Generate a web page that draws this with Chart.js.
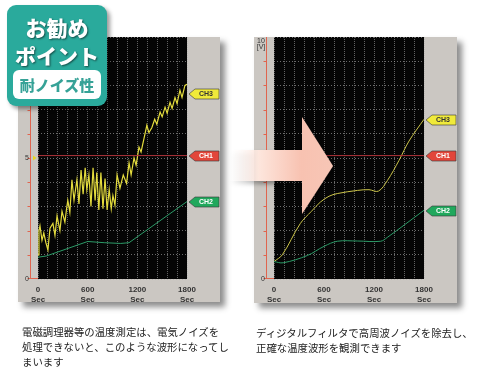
<!DOCTYPE html>
<html>
<head>
<meta charset="utf-8">
<script src="https://cdn.jsdelivr.net/npm/chart.js@4"></script>
<style>
  body { margin: 0; background: #fff; }
  #page { position: relative; width: 480px; height: 374px; overflow: hidden; background: #fff; }
  .frame { position: absolute; background: #cbc7c2; box-shadow: 5px 5px 6px rgba(0,0,0,0.45); }
  .frame canvas { position: absolute; left: 0; top: 0; }
  .caption { position: absolute; font-family: "Noto Sans CJK JP", sans-serif; font-size: 10.4px; line-height: 15px; color: #222; white-space: nowrap; }
  #badge { position: absolute; left: 7px; top: 5px; width: 100px; height: 101px; background: #2aaa9c; border-radius: 9px; box-shadow: 3px 3px 4px rgba(0,0,0,0.4); font-family: "Noto Sans CJK JP", sans-serif; font-weight: 900; color: #fff; text-align: center; }
  #badge .l1 { position: absolute; left: 0; right: 0; top: 10px; font-size: 21px; line-height: 24px; text-shadow: 1px 1px 2px rgba(0,0,0,0.55); }
  #badge .l2 { position: absolute; left: 0; right: 0; top: 38px; font-size: 21px; line-height: 24px; text-shadow: 1px 1px 2px rgba(0,0,0,0.55); }
  #badge .box { position: absolute; left: 6px; top: 65px; width: 88px; height: 29px; background: #fff; border-radius: 6px; color: #36a297; font-size: 15px; line-height: 29px; }
  #arrow { position: absolute; left: 0; top: 0; }
</style>
</head>
<body>
<div id="page">
  <div class="frame" style="left:18px; top:37px; width:202px; height:265px;"><canvas id="noisy" width="202" height="265"></canvas></div>
  <div class="frame" style="left:254px; top:37px; width:203px; height:266px;"><canvas id="filtered" width="203" height="266"></canvas></div>

  <svg id="arrow" width="480" height="374">
    <defs>
      <linearGradient id="ag" gradientUnits="userSpaceOnUse" x1="227" y1="0" x2="333" y2="0">
        <stop offset="0" stop-color="#ffffff" stop-opacity="0"/>
        <stop offset="0.3" stop-color="#fde6dd"/>
        <stop offset="0.7" stop-color="#f8c2b1"/>
        <stop offset="1" stop-color="#f7c6b6"/>
      </linearGradient>
      <filter id="sh" x="-10%" y="-10%" width="130%" height="130%">
        <feDropShadow dx="3" dy="3" stdDeviation="2" flood-color="#000" flood-opacity="0.35"/>
      </filter>
    </defs>
    <polygon points="227,150 302,150 302,117 333,166 302,214 302,181 227,181" fill="url(#ag)" filter="url(#sh)"/>
  </svg>

  <div id="badge">
    <div class="l1">お勧め</div>
    <div class="l2">ポイント</div>
    <div class="box">耐ノイズ性</div>
  </div>

  <div class="caption" style="left:22px; top:324px;">電磁調理器等の温度測定は、電気ノイズを<br>処理できないと、このような波形になってし<br>まいます</div>
  <div class="caption" style="left:256px; top:325px;">ディジタルフィルタで高周波ノイズを除去し、<br>正確な温度波形を観測できます</div>
</div>

<script>
// 温度ロガー画面: 左 = フィルタなし, 右 = ディジタルフィルタあり
var xTickLabels = ['0', '600', '1200', '1800'];
var xUnit = 'Sec';

// 左 (ノイズあり) CH3
var noisyT = [0, 12, 24, 48, 70, 95, 120, 145, 180, 205, 230, 265, 290, 325, 345, 360, 385, 410, 435, 470,
              495, 520, 545, 570, 590, 615, 640, 665, 690, 710, 735, 760, 785, 810, 835, 860, 885, 905, 930, 955,
              990, 1030, 1070, 1100, 1125, 1160, 1185, 1220, 1245, 1280, 1315, 1340, 1375, 1410, 1435, 1475, 1500, 1535, 1560, 1595,
              1620, 1655, 1680, 1715, 1740, 1775, 1800];
var noisyCh3 = [1.0, 2.0, 2.2, 1.6, 1.9, 1.5, 1.2, 2.1, 2.3, 1.8, 2.6, 2.0, 2.8, 2.35, 2.9, 3.25, 2.75, 4.1, 3.25, 4.1,
                3.1, 4.5, 3.5, 4.6, 3.7, 4.3, 3.0, 4.6, 3.25, 4.4, 2.85, 4.4, 2.9, 4.15, 2.85, 3.7, 2.9, 3.45, 3.05, 4.3,
                3.75, 4.3, 3.95, 4.8, 4.3, 5.0, 4.7, 5.45, 5.25, 5.8, 6.35, 6.05, 6.25, 6.6, 6.4, 6.9, 6.7, 7.1, 6.85, 7.3,
                7.05, 7.5, 7.25, 7.8, 7.5, 8.0, 8.05];
var noisyCh2T = [0, 100, 600, 800, 1000, 1100, 1800];
var noisyCh2 = [0.9, 0.95, 1.55, 1.5, 1.47, 1.5, 3.2];
var noisyCh1T = [0, 1800];
var noisyCh1 = [5.1, 5.1];

// 右 (フィルタあり)
var filtCh3T = [0, 100, 315, 450, 557, 660, 759, 1000, 1140, 1253, 1361, 1500, 1620, 1800];
var filtCh3 = [0.72, 1.0, 2.29, 2.8, 3.18, 3.42, 3.53, 3.66, 3.69, 3.63, 4.07, 4.9, 5.7, 6.6];
var filtCh2T = [0, 110, 400, 600, 760, 1000, 1280, 1360, 1800];
var filtCh2 = [0.72, 0.67, 0.97, 1.35, 1.56, 1.57, 1.56, 1.72, 2.84];
var filtCh1T = [0, 1800];
var filtCh1 = [5.1, 5.1];

// 右端のチャンネル表示の位置 [CH3, CH1, CH2]
var channelNames = ['CH3', 'CH1', 'CH2'];
var noisyFlags = [7.65, 5.1, 3.2];
var filtFlags = [6.57, 5.1, 2.8];

var flagColors = ['#f0ea3a', '#e2463a', '#20a85c'];
var flagText = ['#333', '#fff', '#fff'];

function pts(t, v) {
    return t.map(function (x, i) { return { x: x, y: v[i] }; });
}

var scopePlugin = {
    id: 'scope',
    beforeDraw: function (chart) {
        var ctx = chart.ctx, a = chart.chartArea, y = chart.scales.y;
        ctx.save();
        ctx.fillStyle = '#050505';
        ctx.fillRect(a.left, a.top, a.right - a.left, a.bottom - a.top);
        // 赤い縦軸
        var ax = a.left - 7.5;
        ctx.strokeStyle = '#e0654f';
        ctx.lineWidth = 1;
        ctx.beginPath();
        ctx.moveTo(ax, a.top);
        ctx.lineTo(ax, a.bottom);
        for (var v = 1; v < 10; v++) {
            var py = Math.round(y.getPixelForValue(v)) + 0.5;
            ctx.moveTo(ax - 3, py);
            ctx.lineTo(ax, py);
        }
        ctx.moveTo(ax - 3, a.bottom - 0.5);
        ctx.lineTo(a.left, a.bottom - 0.5);
        ctx.stroke();
        ctx.restore();
    },
    afterDraw: function (chart) {
        var ctx = chart.ctx, a = chart.chartArea, y = chart.scales.y;
        var o = chart.options.plugins.scope;
        ctx.save();
        // 10 [V]
        ctx.fillStyle = '#333';
        ctx.font = '7px "Liberation Sans"';
        ctx.textAlign = 'center';
        ctx.fillText('10', a.left - 13, y.getPixelForValue(10) + 6);
        ctx.fillText('[V]', a.left - 13, y.getPixelForValue(10) + 12);
        if (o.marker != null) {
            var my = y.getPixelForValue(o.marker);
            ctx.fillStyle = '#e8d820';
            ctx.beginPath();
            ctx.moveTo(a.left - 5, my - 2.5);
            ctx.lineTo(a.left - 1.5, my);
            ctx.lineTo(a.left - 5, my + 2.5);
            ctx.fill();
        }
        // チャンネル旗
        o.flags.forEach(function (val, i) {
            var fy = Math.round(y.getPixelForValue(val));
            var x0 = a.right + 2, x1 = x0 + 6, x2 = x0 + 30, h = 5;
            ctx.beginPath();
            ctx.moveTo(x0, fy);
            ctx.lineTo(x1, fy - h);
            ctx.lineTo(x2, fy - h);
            ctx.lineTo(x2, fy + h);
            ctx.lineTo(x1, fy + h);
            ctx.closePath();
            ctx.fillStyle = flagColors[i];
            ctx.fill();
            ctx.strokeStyle = 'rgba(60,60,60,0.8)';
            ctx.lineWidth = 0.8;
            ctx.stroke();
            ctx.fillStyle = flagText[i];
            ctx.font = 'bold 7px "Liberation Sans"';
            ctx.textAlign = 'center';
            ctx.textBaseline = 'middle';
            ctx.fillText(channelNames[i], x0 + 17, fy + 0.5);
        });
        ctx.restore();
    }
};

function makeScope(id, series, yLabelled, flags, marker, axisH) {
    var ctx = document.getElementById(id).getContext('2d');
    var style = series[3];
    return new Chart(ctx, {
        type: 'line',
        data: {
            datasets: [
                { label: 'CH1', data: pts(series[0][0], series[0][1]), borderColor: '#b0333a', borderWidth: 1, pointRadius: 0, tension: 0 },
                { label: 'CH2', data: pts(series[1][0], series[1][1]), borderColor: '#2c9c68', borderWidth: 1, pointRadius: 0, tension: style.tension },
                { label: 'CH3', data: pts(series[2][0], series[2][1]), borderColor: style.ch3, borderWidth: style.width, pointRadius: 0, tension: style.tension }
            ]
        },
        options: {
            responsive: false,
            animation: false,
            layout: { padding: { top: 0, right: 33, left: 0, bottom: 0 } },
            plugins: {
                legend: { display: false },
                tooltip: { enabled: false },
                scope: { flags: flags, marker: marker }
            },
            scales: {
                x: {
                    type: 'linear', min: 0, max: 1800,
                    afterFit: function (s) { s.height = axisH; s.paddingLeft = 0; s.paddingRight = 0; },
                    grid: { color: 'rgba(175,175,175,0.55)', drawTicks: false },
                    border: { display: false, dash: [1, 1] },
                    ticks: {
                        stepSize: 120, autoSkip: false, maxRotation: 0, padding: 6,
                        color: '#333', font: { size: 8, family: 'Liberation Sans', weight: 'bold' },
                        callback: function (v) {
                            var k = xTickLabels.indexOf(String(v));
                            return k >= 0 ? [xTickLabels[k], xUnit] : '';
                        }
                    }
                },
                y: {
                    min: 0, max: 10,
                    afterFit: function (s) { s.width = 20; s.paddingTop = 0; s.paddingBottom = 0; },
                    grid: { color: 'rgba(175,175,175,0.6)', drawTicks: false },
                    border: { display: false, dash: [1, 2] },
                    ticks: {
                        stepSize: 1, padding: 9,
                        color: '#333', font: { size: 7, family: 'Liberation Sans' },
                        callback: function (v) { return yLabelled.indexOf(v) >= 0 ? String(v) : ''; }
                    }
                }
            }
        },
        plugins: [scopePlugin]
    });
}

makeScope('noisy',
    [[noisyCh1T, noisyCh1], [noisyCh2T, noisyCh2], [noisyT, noisyCh3], { tension: 0, ch3: '#e4dc3e', width: 1.2 }],
    [0, 5], noisyFlags, 5, 23);
makeScope('filtered',
    [[filtCh1T, filtCh1], [filtCh2T, filtCh2], [filtCh3T, filtCh3], { tension: 0.35, ch3: '#cdc54a', width: 1 }],
    [0], filtFlags, null, 24);
</script>
</body>
</html>
